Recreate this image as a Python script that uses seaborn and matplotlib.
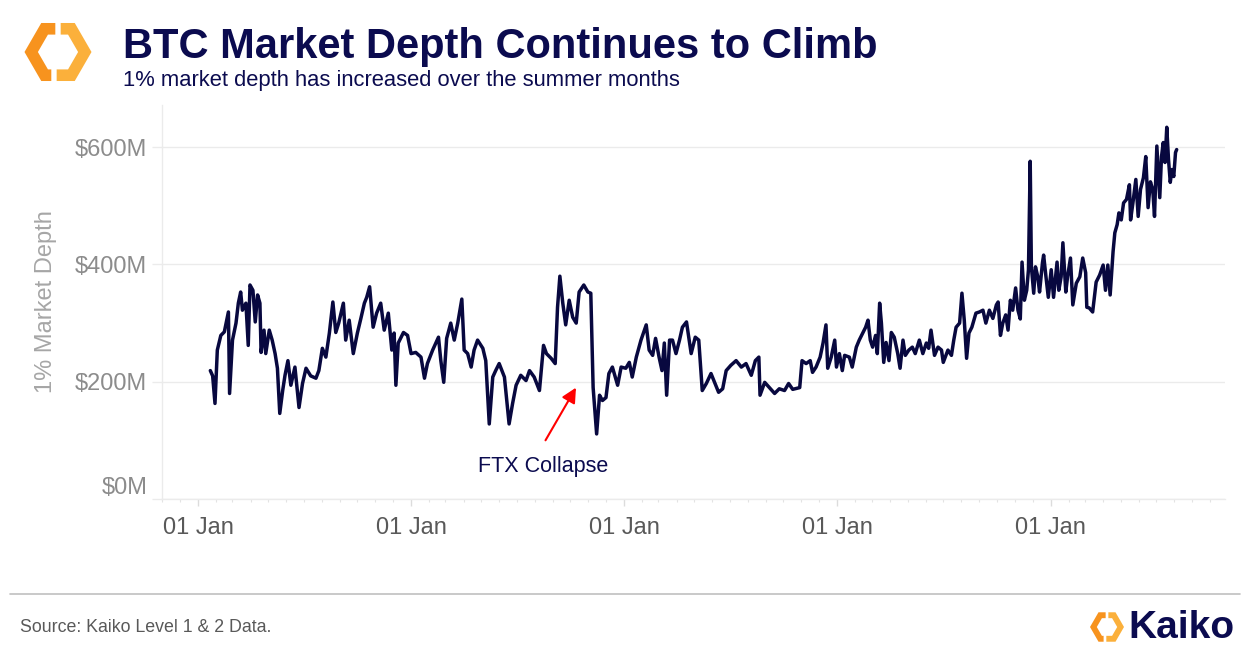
import numpy as np
import pandas as pd
import matplotlib
matplotlib.use("Agg")
import matplotlib.pyplot as plt
import matplotlib.dates as mdates
import seaborn as sns
from matplotlib.patches import Polygon
from matplotlib.lines import Line2D
from matplotlib.ticker import FuncFormatter
from matplotlib.transforms import ScaledTranslation

# data: days since 2021-01-01 and 1% depth in $M
START = "2021-01-01"
day_offset = [
    21, 25, 29, 33, 39, 45, 52, 54, 59, 65, 69, 73, 76, 82, 86, 89, 94, 98, 102, 106,
    108, 113, 116, 122, 127, 132, 136, 140, 145, 149, 154, 159, 166, 173, 179, 185, 193, 202, 207, 213,
    219, 225, 231, 236, 241, 249, 253, 259, 266, 273, 279, 285, 289, 294, 300, 306, 313, 319, 326, 332,
    336, 339, 343,
    352, 359, 365, 373, 382, 388, 393, 402, 412, 416, 421, 426, 433, 439, 445, 452, 456, 462, 468, 473,
    479, 488, 493, 499, 505, 510, 516, 525, 533, 539, 545, 553, 562, 568, 576, 585, 592, 597, 605, 612,
    616, 620, 625, 630, 636, 642, 648, 653, 661, 668, 673, 677, 683, 688,
    693, 699, 704, 710, 719, 725, 733, 739, 744, 751, 759, 768, 773, 779, 784, 790, 795, 799, 803, 808,
    813, 819, 825, 830, 837, 845, 852, 858, 864, 871, 879, 887, 892, 899, 905, 913, 922, 931, 939, 948,
    955, 961, 963, 971, 979, 988, 996, 1005, 1012,
    1019, 1031, 1035, 1042, 1049, 1053, 1059, 1066, 1071, 1076, 1079, 1085, 1091, 1094, 1099, 1104, 1108, 1116, 1121, 1128,
    1133, 1139, 1144, 1148, 1152, 1156, 1161, 1164, 1168, 1171, 1175, 1179, 1184, 1188, 1193, 1199, 1203, 1208, 1212, 1218,
    1224, 1229, 1236, 1242, 1248, 1252, 1256, 1262, 1268, 1274, 1277, 1285, 1291, 1295, 1299, 1305, 1309, 1313, 1317, 1321,
    1326, 1333, 1339,
    1345, 1350, 1356, 1362, 1368, 1371, 1375, 1379, 1384, 1388, 1392, 1396, 1401, 1405, 1409, 1412, 1416, 1420, 1423, 1426,
    1428, 1432, 1435, 1439, 1442, 1447, 1449, 1453, 1457, 1462, 1466, 1472, 1475, 1479, 1482, 1487, 1490, 1495, 1499, 1505,
    1511, 1516, 1521, 1523, 1527, 1533, 1539, 1545, 1551, 1555, 1559, 1563, 1568, 1571, 1575, 1578, 1582, 1586, 1591, 1596,
    1598, 1602, 1607, 1611, 1615, 1620, 1624, 1628, 1632, 1636, 1639, 1643, 1648, 1651, 1654, 1657, 1660, 1663, 1666, 1669,
    1672, 1675, 1677,
]
depth_musd = [
    219, 210, 163, 254, 279, 285, 319, 180, 271, 300, 334, 353, 322, 334, 262, 365, 356, 302, 348, 334,
    250, 288, 248, 288, 271, 248, 223, 146, 185, 211, 236, 194, 225, 156, 197, 223, 210, 206, 219, 257,
    242, 283, 336, 284, 300, 334, 271, 305, 248, 283, 308, 334, 344, 362, 293, 317, 334, 288, 317, 254,
    283, 194, 266,
    284, 279, 248, 250, 242, 206, 231, 254, 276, 236, 199, 274, 300, 271, 300, 341, 254, 248, 225, 254,
    271, 257, 236, 128, 208, 219, 231, 208, 128, 163, 194, 211, 202, 219, 208, 185, 262, 248, 240, 231,
    327, 380, 334, 297, 339, 310, 300, 353, 365, 353, 351, 190, 111, 177,
    168, 173, 214, 225, 194, 225, 223, 233, 208, 242, 271, 297, 254, 245, 274, 242, 219, 266, 177, 271,
    271, 248, 271, 293, 302, 248, 276, 271, 185, 197, 214, 194, 182, 188, 219, 228, 236, 225, 231, 211,
    236, 242, 177, 199, 190, 180, 188, 185, 197,
    187, 190, 236, 231, 236, 216, 225, 242, 266, 297, 223, 242, 271, 225, 248, 219, 245, 242, 225, 259,
    271, 283, 293, 305, 271, 259, 279, 248, 334, 300, 233, 267, 236, 284, 276, 248, 223, 271, 245, 254,
    259, 248, 271, 248, 266, 257, 288, 245, 259, 254, 233, 254, 245, 271, 293, 300, 351, 305, 240, 283,
    293, 317, 319,
    322, 300, 322, 308, 331, 336, 279, 300, 314, 288, 339, 322, 360, 322, 307, 404, 339, 356, 391, 576,
    396, 351, 396, 379, 353, 403, 416, 379, 344, 391, 344, 404, 356, 379, 437, 353, 379, 411, 331, 368,
    379, 411, 386, 327, 326, 319, 370, 382, 399, 356, 399, 348, 422, 454, 468, 488, 476, 505, 511, 536,
    476, 505, 545, 482, 528, 548, 584, 497, 541, 528, 482, 602, 514, 584, 608, 574, 634, 579, 540, 562,
    550, 591, 596,
]
y_ticks = [0, 200, 400, 600]

TITLE = "BTC Market Depth Continues to Climb"
SUBTITLE = "1% market depth has increased over the summer months"
SOURCE = "Source: Kaiko Level 1 & 2 Data."

NAVY = "#0b0b4f"
LINE = "#08083f"
W, H = 1248, 658


def fx(x):
    return x / W


def fy(y):
    return 1 - y / H


def draw_logo(fig, cx, cy, R):
    # two-piece hexagon mark
    r = R * 0.6
    h = np.sqrt(3) / 2
    O = [(cx + R, cy), (cx + R / 2, cy - R * h), (cx - R / 2, cy - R * h),
         (cx - R, cy), (cx - R / 2, cy + R * h), (cx + R / 2, cy + R * h)]
    I = [(cx + r, cy), (cx + r / 2, cy - r * h), (cx - r / 2, cy - r * h),
         (cx - r, cy), (cx - r / 2, cy + r * h), (cx + r / 2, cy + r * h)]
    to, ti, bo, bi = cy - R * h, cy - r * h, cy + R * h, cy + r * h
    left = [(cx - 0.08 * R, to), O[2], O[3], O[4], (cx - 0.2 * R, bo),
            (cx - 0.2 * R, bi), I[4], I[3], I[2], (cx - 0.08 * R, ti)]
    right = [(cx + 0.08 * R, to), O[1], O[0], O[5], (cx - 0.04 * R, bo),
             (cx - 0.04 * R, bi), I[5], I[0], I[1], (cx + 0.08 * R, ti)]
    for pts, col in [(left, "#f7931e"), (right, "#fbb03b")]:
        fig.add_artist(Polygon([(fx(a), fy(b)) for a, b in pts], closed=True,
                               transform=fig.transFigure, facecolor=col, edgecolor="none"))


sns.set_theme(style="white")
plt.rcParams["font.family"] = ["Liberation Sans", "DejaVu Sans"]

df = pd.DataFrame({
    "date": pd.Timestamp(START) + pd.to_timedelta(day_offset, unit="D"),
    "depth": depth_musd,
})

fig = plt.figure(figsize=(12.48, 6.58), dpi=100)
ax = fig.add_axes([fx(162), fy(499), (1225 - 162) / W, (499 - 105) / H])

sns.lineplot(data=df, x="date", y="depth", color=LINE, linewidth=2.5, ax=ax)

ax.set_ylim(0, 672)
ax.set_yticks(y_ticks)
ax.yaxis.set_major_formatter(FuncFormatter(lambda v, p: f"${v:.0f}M"))
ax.xaxis.set_major_locator(mdates.YearLocator())
ax.xaxis.set_minor_locator(mdates.MonthLocator())
ax.xaxis.set_major_formatter(mdates.DateFormatter("%d %b"))

ax.grid(axis="y", color="#ebebeb", lw=1)
ax.grid(axis="x", visible=False)
for s in ["top", "right"]:
    ax.spines[s].set_visible(False)
for s in ["left", "bottom"]:
    ax.spines[s].set_color("#ebebeb")
    ax.spines[s].set_linewidth(1)

ax.tick_params(axis="y", length=7, width=1, color="#ebebeb", labelsize=17,
               labelcolor="#8c8c8c", pad=3.5, left=True)
ax.tick_params(axis="x", which="major", length=5, width=1, color="#dcdcdc",
               labelsize=17, labelcolor="#595959", pad=8, bottom=True)
ax.tick_params(axis="x", which="minor", length=2.5, width=0.8, color="#e3e3e3", bottom=True)

ax.set_xlabel("")
ax.set_ylabel("1% Market Depth", fontsize=17, color="#a6a6a6")
ax.yaxis.set_label_coords(-0.099, 0.5)

# lift the $0M label like the original
lab0 = ax.get_yticklabels()[0]
lab0.set_transform(lab0.get_transform() + ScaledTranslation(0, 0.14, fig.dpi_scale_trans))

# FTX annotation
ax.annotate("", xy=(pd.Timestamp("2022-10-13"), 194), xytext=(pd.Timestamp("2022-08-17"), 96),
            arrowprops=dict(arrowstyle="-|>", color="#ff0000", lw=1.5, mutation_scale=22))
ax.text(pd.Timestamp("2022-08-16"), 55, "FTX Collapse", fontsize=15.5, color=NAVY,
        ha="center", va="center")

# header
draw_logo(fig, 58, 52, 33.5)
fig.text(fx(123), fy(58), TITLE, fontsize=30, weight="bold", color=NAVY, va="baseline")
fig.text(fx(123), fy(86), SUBTITLE, fontsize=15.8, color=NAVY, va="baseline")

# footer
fig.add_artist(Line2D([fx(10), fx(1240)], [fy(594), fy(594)], color="#c0c0c0", lw=1.2))
fig.text(fx(20), fy(628), SOURCE, fontsize=12.8, color="#595959", va="center")
draw_logo(fig, 1107, 627, 17)
fig.text(fx(1128), fy(628), "Kaiko", fontsize=28, weight="bold", color=NAVY, va="center")

fig.savefig("out.png", dpi=100)
